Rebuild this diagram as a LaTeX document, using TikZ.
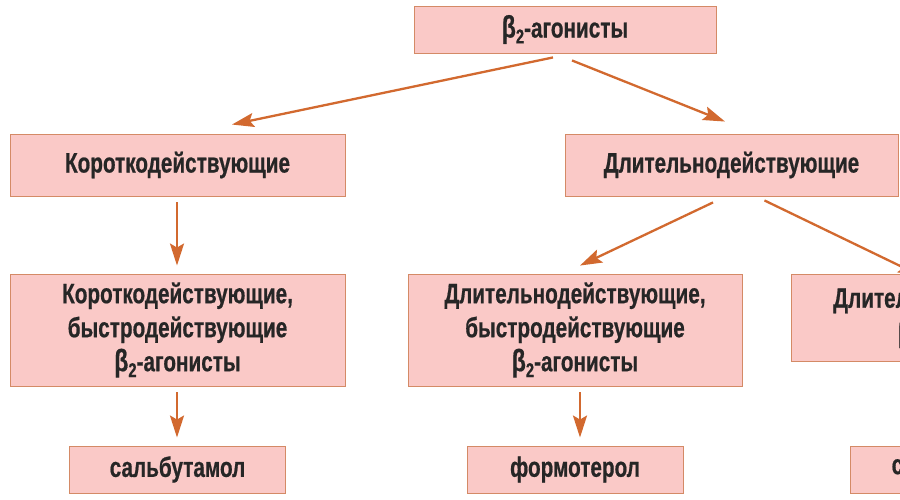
\documentclass[tikz,border=0pt]{standalone}
\usepackage{fontspec}
\setmainfont{Liberation Sans}[FakeStretch=0.74, BoldFeatures={FakeBold=0.6}]
\usetikzlibrary{arrows.meta,calc}
\definecolor{boxfill}{HTML}{FAC9C7}
\definecolor{boxline}{HTML}{D48A66}
\definecolor{arrowc}{HTML}{D2692F}
\definecolor{txt}{HTML}{262626}
\newcommand{\betatwo}{{\fontsize{31}{31}\selectfont β}\raisebox{-0.4ex}{\fontsize{20}{20}\selectfont 2}}
\tikzset{
  box/.style={draw=boxline, fill=boxfill, line width=0.9pt, inner sep=0pt,
    align=center, text=txt, font=\fontsize{28}{34}\selectfont\bfseries},
  arr/.style={draw=arrowc, line width=2.3pt,
    -{Stealth[length=22pt,width=14pt,inset=4pt]}}
}
\begin{document}
\begin{tikzpicture}[x=1pt,y=-1pt]
\useasboundingbox (0,0) rectangle (900,500);
\fill[white] (0,0) rectangle (900,500);
\clip (0,0) rectangle (900,500);
\node[box, minimum width=302pt, minimum height=47pt] (top) at (565,29.5) {\betatwo-агонисты};
\node[box, minimum width=335pt, minimum height=62pt] (A) at (177.5,165) {Короткодействующие};
\node[box, minimum width=333pt, minimum height=62pt] (B) at (731.5,165) {Длительнодействующие};
\node[box, minimum width=335pt, minimum height=112pt] (C) at (177.5,330) {Короткодействующие,\\быстродействующие\\\betatwo-агонисты};
\node[box, minimum width=334pt, minimum height=112pt] (D) at (575,330) {Длительнодействующие,\\быстродействующие\\\betatwo-агонисты};
\node[box, minimum width=340pt, minimum height=87pt] (E) at (961,317.5) {Длительнодействующие\\\betatwo-агонисты};
\node[box, minimum width=216pt, minimum height=47pt] (F) at (177.5,469.5) {сальбутамол};
\node[box, minimum width=216pt, minimum height=47pt] (G) at (575,469.5) {формотерол};
\node[box, minimum width=206pt, minimum height=47pt] (H) at (953,469.5) {салметерол};
\draw[arr] ($(top.south)+(-12,4)$) -- ($(A.north)+(54.5,-9)$);
\draw[arr] ($(top.south)+(7,7)$) -- ($(B.north)+(-6.5,-12)$);
\draw[arr] ($(A.south)+(-0.5,6)$) -- ($(C.north)+(-0.5,-8)$);
\draw[arr] ($(B.south)+(-18.5,6)$) -- ($(D.north)+(5,-8)$);
\draw[arr] ($(B.south)+(33,4)$) -- ($(E.north)+(-41,2)$);
\draw[arr] ($(C.south)+(-0.5,6)$) -- ($(F.north)+(-0.5,-8)$);
\draw[arr] ($(D.south)+(5,6)$) -- ($(G.north)+(5,-8)$);
\end{tikzpicture}
\end{document}
